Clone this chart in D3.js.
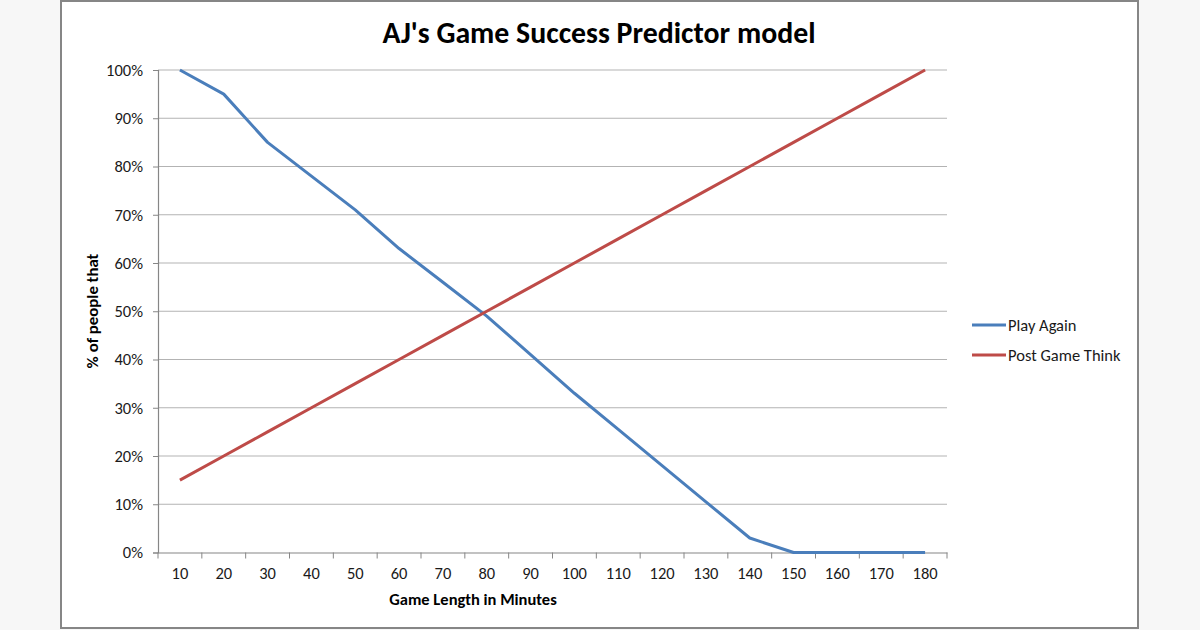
<!DOCTYPE html>
<html>
<head>
<meta charset="utf-8">
<script src="https://cdn.jsdelivr.net/npm/d3@7"></script>
<style>
  body { margin: 0; background: #f7f7f7; }
  text { font-family: Carlito, "Open Sans", "Liberation Sans", sans-serif; }
</style>
</head>
<body>
<div class="chart"></div>
<script>
// data
var minutes = ["10","20","30","40","50","60","70","80","90","100","110","120","130","140","150","160","170","180"];
var playAgain = [100, 95, 85, 78, 71, 63, 56, 49, 41, 33, 25.5, 18, 10.5, 3, 0, 0, 0, 0];
var postGameThink = [15, 20, 25, 30, 35, 40, 45, 50, 55, 60, 65, 70, 75, 80, 85, 90, 95, 100];
var yTicks = [0, 10, 20, 30, 40, 50, 60, 70, 80, 90, 100];

var seriesNames = ["Play Again", "Post Game Think"];
var seriesColors = ["#4a7ebb", "#be4b48"];
var series = [playAgain, postGameThink];

var W = 1200, H = 630;
var plot = {left: 158, right: 947, top: 70, bottom: 552.5};

var svg = d3.select(".chart")
  .append("svg")
    .attr("width", W)
    .attr("height", H);

// chart frame
svg.append("rect")
  .attr("x", 61).attr("y", 1)
  .attr("width", 1077).attr("height", 627)
  .attr("fill", "#fff")
  .attr("stroke", "#868686")
  .attr("stroke-width", 2);

var x = d3.scaleBand()
  .domain(minutes)
  .range([plot.left, plot.right]);

var y = d3.scaleLinear()
  .domain([0, 100])
  .range([plot.bottom, plot.top]);

// gridlines
svg.append("g")
  .selectAll("line")
  .data(yTicks.slice(1))
  .enter().append("line")
    .attr("x1", plot.left).attr("x2", plot.right)
    .attr("y1", function(d) { return y(d); })
    .attr("y2", function(d) { return y(d); })
    .attr("stroke", "#b3b3b3")
    .attr("stroke-width", 1.2);

// y axis
var yAxis = svg.append("g")
  .attr("transform", "translate(" + plot.left + ",0)")
  .call(d3.axisLeft(y).tickValues(yTicks).tickSize(5).tickPadding(10)
    .tickFormat(function(d) { return d + "%"; }));

// x axis, ticks on category boundaries
var xAxis = svg.append("g")
  .attr("transform", "translate(0," + plot.bottom + ")")
  .call(d3.axisBottom(x).tickSize(0).tickPadding(15));
xAxis.selectAll(".bound")
  .data(minutes.concat(["end"]))
  .enter().append("line")
    .attr("class", "bound")
    .attr("x1", function(d, i) { return plot.left + i * x.step(); })
    .attr("x2", function(d, i) { return plot.left + i * x.step(); })
    .attr("y1", 0).attr("y2", 6)
    .attr("stroke", "#868686");

[yAxis, xAxis].forEach(function(a) {
  a.selectAll(".domain").attr("stroke", "#868686").attr("stroke-width", 1.2);
  a.selectAll(".tick line").attr("stroke", "#868686");
  a.selectAll("text")
    .attr("font-size", 16.5)
    .attr("fill", "#1a1a1a")
    .style("font-family", "Carlito, 'Open Sans', 'Liberation Sans', sans-serif");
});

// lines
var line = d3.line()
  .x(function(d, i) { return x(minutes[i]) + x.bandwidth() / 2; })
  .y(function(d) { return y(d); });

svg.append("g")
  .selectAll("path")
  .data(series)
  .enter().append("path")
    .attr("d", line)
    .attr("fill", "none")
    .attr("stroke", function(d, i) { return seriesColors[i]; })
    .attr("stroke-width", 3)
    .attr("stroke-linejoin", "round");

// title
svg.append("text")
  .attr("x", 599).attr("y", 43)
  .attr("text-anchor", "middle")
  .attr("font-size", 29.8)
  .attr("font-weight", "bold")
  .attr("fill", "#000")
  .text("AJ's Game Success Predictor model");

// axes labels
svg.append("text")
  .attr("transform", "translate(98,311) rotate(-90)")
  .attr("text-anchor", "middle")
  .attr("font-size", 16.8)
  .attr("font-weight", "bold")
  .attr("fill", "#000")
  .text("% of people that");

svg.append("text")
  .attr("x", 473).attr("y", 605)
  .attr("text-anchor", "middle")
  .attr("font-size", 16.5)
  .attr("font-weight", "bold")
  .attr("fill", "#000")
  .text("Game Length in Minutes");

// legend
var legend = svg.append("g")
  .selectAll("g")
  .data(seriesNames)
  .enter().append("g")
    .attr("transform", function(d, i) { return "translate(972," + (325 + i * 30) + ")"; });
legend.append("line")
  .attr("x1", 0).attr("x2", 34)
  .attr("stroke", function(d, i) { return seriesColors[i]; })
  .attr("stroke-width", 3);
legend.append("text")
  .attr("x", 36).attr("dy", "0.35em")
  .attr("font-size", 16.5)
  .attr("fill", "#1a1a1a")
  .text(function(d) { return d; });
</script>
</body>
</html>
